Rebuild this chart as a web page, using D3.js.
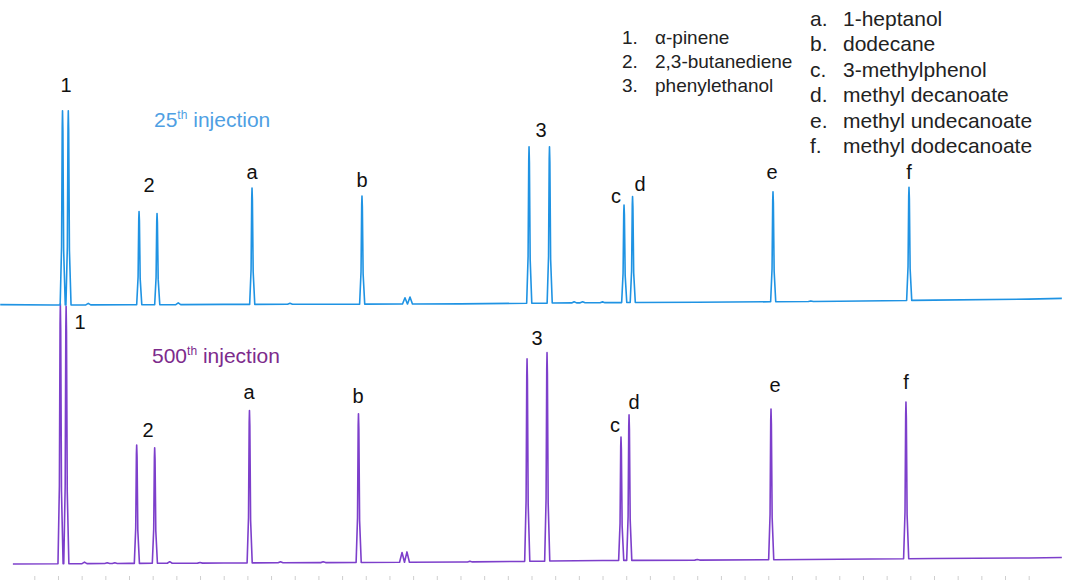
<!DOCTYPE html>
<html>
<head>
<meta charset="utf-8">
<script src="https://cdn.jsdelivr.net/npm/d3@7"></script>
<style>
  body { margin: 0; background: #fff; }
  svg { display: block; font-family: 'Liberation Sans', Arial, sans-serif; }
</style>
</head>
<body>
<svg id="chart" width="1080" height="581"></svg>
<script>
// tick marks along the time axis (min), no labels
const tickTimes = d3.range(0, 10.5001, 0.25)

// ---- 25th injection ----
const baseTimes25 = [-0.36, 0.2, 1.0, 2.0, 3.0, 4.5, 6.0, 7.0, 8.5, 9.5, 10.5, 10.85]
const baseValues25 = [0.2, 0, 0.1, 0.3, 0.4, 0.6, 1.2, 1.4, 1.9, 2.5, 3.0, 3.4]
const peakTimes25 = [0.298, 0.359, 1.106, 1.296, 2.299, 3.460, 5.224, 5.440, 6.227, 6.317, 7.800, 9.236]
const peakHeights25 = [99.6, 99.6, 47.8, 46.8, 59.6, 55.4, 80.2, 80.2, 50.0, 54.3, 56.4, 58.0]
const minorTimes25 = [0.57, 1.52, 2.70, 3.914, 3.967, 5.70, 5.79, 6.0, 8.2]
const minorHeights25 = [0.8, 0.9, 0.5, 3.2, 3.6, 0.6, 0.5, 0.4, 0.3]
const labels25 = ['1', '2', 'a', 'b', '3', 'c', 'd', 'e', 'f']
const labelTimes25 = [0.335, 1.211, 2.299, 3.460, 5.351, 6.143, 6.396, 7.790, 9.236]
const labelLevels25 = [109.2, 57.9, 64.6, 60.5, 86.2, 52.3, 58.5, 64.6, 64.6]

// ---- 500th injection ----
const baseTimes500 = [-0.226, 1.0, 2.0, 3.0, 4.5, 6.0, 7.0, 8.5, 9.5, 10.5, 10.85]
const baseValues500 = [0, 0.3, 0.5, 0.7, 1.0, 1.8, 2.0, 2.4, 2.8, 3.1, 3.3]
const peakTimes500 = [0.275, 0.336, 1.081, 1.271, 2.272, 3.423, 5.203, 5.414, 6.195, 6.280, 7.779, 9.204]
const peakHeights500 = [133.3, 132.0, 60.7, 59.2, 78.1, 76.2, 103.8, 106.9, 63.3, 74.6, 77.3, 80.4]
const minorTimes500 = [0.53, 0.77, 0.85, 1.43, 1.75, 2.60, 3.05, 3.883, 3.935, 4.60, 7.00]
const minorHeights500 = [0.8, 0.4, 0.4, 0.8, 0.3, 0.5, 0.4, 5.0, 5.3, 0.4, 0.3]
const labels500 = ['1', '2', 'a', 'b', '3', 'c', 'd', 'e', 'f']
const labelTimes500 = [0.483, 1.200, 2.267, 3.418, 5.308, 6.132, 6.332, 7.821, 9.204]
const labelLevels500 = [120.5, 65.1, 84.6, 82.6, 112.3, 67.7, 79.5, 88.2, 89.7]

// ---- compound legend ----
const numberKeys = ['1.', '2.', '3.']
const numberNames = ['α-pinene', '2,3-butanediene', 'phenylethanol']
const letterKeys = ['a.', 'b.', 'c.', 'd.', 'e.', 'f.']
const letterNames = ['1-heptanol', 'dodecane', '3-methylphenol', 'methyl decanoate', 'methyl undecanoate', 'methyl dodecanoate']

const blue = '#1f93e3'
const purple = '#7d3fcb'

// shape of a sharp GC peak (time offset, fraction of height)
const peakShape = [[-0.025, 0], [-0.01, 0.3], [-0.003, 0.92], [0, 1], [0.004, 0.9], [0.012, 0.28], [0.029, 0]]
const minorShape = [[-0.026, 0], [0, 1], [0.026, 0]]

const svg = d3.select('#chart')
const x = d3.scaleLinear().domain([0, 10.5]).range([34.3, 1028.7])
const yTop = d3.scaleLinear().domain([0, 100]).range([305, 110])
const yBot = d3.scaleLinear().domain([0, 100]).range([564, 369])

function buildTrace(baseT, baseV, peakT, peakH, minorT, minorH) {
  const base = d3.scaleLinear().domain(baseT).range(baseV)
  const pts = []
  const spans = []
  function addPeaks(times, heights, shape) {
    times.forEach((t, i) => {
      shape.forEach(([dt, f]) => pts.push([t + dt, base(t + dt) + f * heights[i]]))
      spans.push([t + shape[0][0], t + shape[shape.length - 1][0]])
    })
  }
  addPeaks(peakT, peakH, peakShape)
  addPeaks(minorT, minorH, minorShape)
  baseT.forEach((t, i) => {
    if (!spans.some(s => t >= s[0] && t <= s[1])) pts.push([t, baseV[i]])
  })
  return pts.sort((a, b) => a[0] - b[0])
}

function drawPanel(y, trace, color, labels, labelT, labelL) {
  const line = d3.line().x(d => x(d[0])).y(d => y(d[1]))
  svg.append('path')
    .datum(trace)
    .attr('d', line)
    .attr('fill', 'none')
    .attr('stroke', color)
    .attr('stroke-width', 1.6)
    .attr('stroke-linejoin', 'round')

  svg.append('g').selectAll('text')
    .data(labels)
    .join('text')
      .attr('x', (d, i) => x(labelT[i]))
      .attr('y', (d, i) => y(labelL[i]))
      .attr('text-anchor', 'middle')
      .attr('font-size', 20)
      .attr('fill', '#111')
      .text(d => d)
}

// bottom trace first so the top trace's baseline sits over the clipped peaks
drawPanel(yBot, buildTrace(baseTimes500, baseValues500, peakTimes500, peakHeights500, minorTimes500, minorHeights500),
  purple, labels500, labelTimes500, labelLevels500)
drawPanel(yTop, buildTrace(baseTimes25, baseValues25, peakTimes25, peakHeights25, minorTimes25, minorHeights25),
  blue, labels25, labelTimes25, labelLevels25)

// Axis ticks
const axis = svg.append('g')
  .attr('transform', 'translate(0,576)')
  .call(d3.axisBottom(x).tickValues(tickTimes).tickSize(4).tickFormat(''))
axis.select('.domain').remove()
axis.selectAll('line').attr('stroke', '#cfcfcf')

// Injection titles
function injectionTitle(num, xPos, yPos, color) {
  const t = svg.append('text')
    .attr('x', xPos).attr('y', yPos)
    .attr('font-size', 21)
    .attr('fill', color)
  t.append('tspan').text(num)
  t.append('tspan').attr('font-size', 12).attr('dy', -8).text('th')
  t.append('tspan').attr('dy', 8).text(' injection')
}
injectionTitle('25', 154, 127, '#4f9fe3')
injectionTitle('500', 152, 363, '#7d2b8c')

// Legends
const legend1 = svg.append('g').attr('font-size', 19).attr('fill', '#222')
legend1.selectAll('.k').data(numberKeys).join('text')
  .attr('x', 622).attr('y', (d, i) => 44 + i * 24.2).text(d => d)
legend1.selectAll('.n').data(numberNames).join('text')
  .attr('x', 655).attr('y', (d, i) => 44 + i * 24.2).text(d => d)

const legend2 = svg.append('g').attr('font-size', 21).attr('fill', '#222')
legend2.selectAll('.k').data(letterKeys).join('text')
  .attr('x', 810).attr('y', (d, i) => 26 + i * 25.4).text(d => d)
legend2.selectAll('.n').data(letterNames).join('text')
  .attr('x', 843).attr('y', (d, i) => 26 + i * 25.4).text(d => d)
</script>
</body>
</html>
